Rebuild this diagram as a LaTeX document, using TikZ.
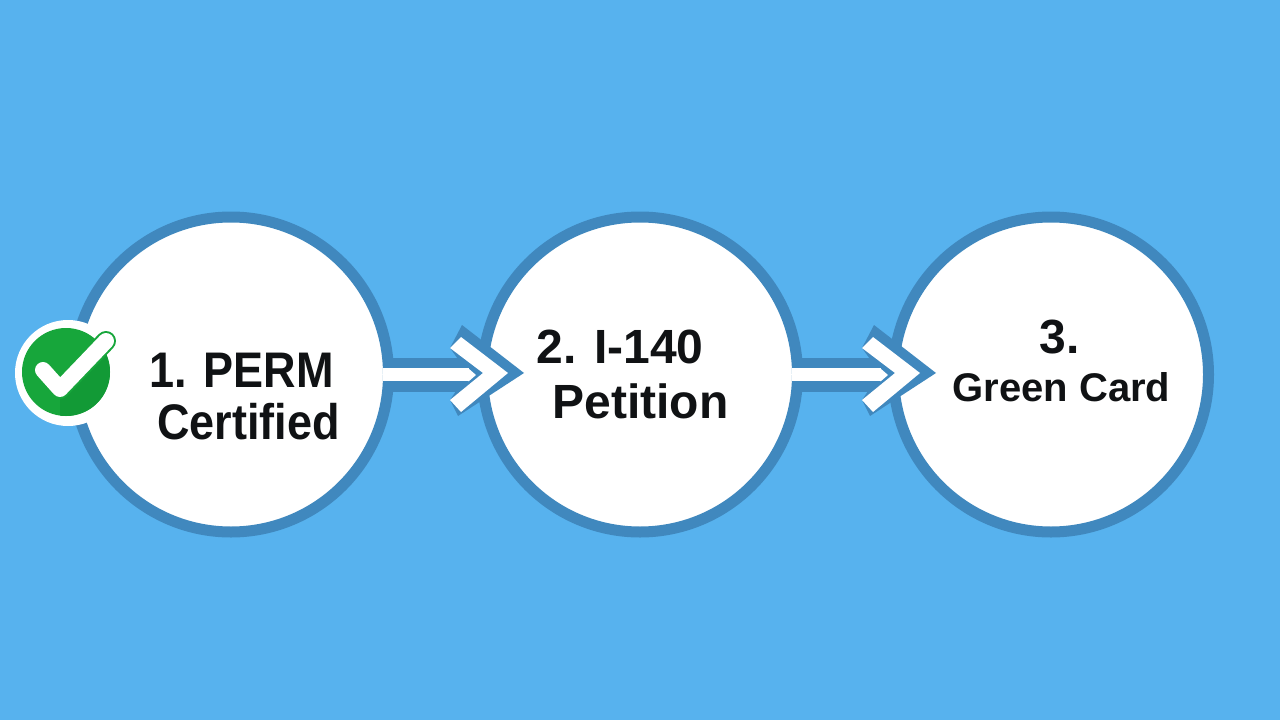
\documentclass[tikz,border=0pt]{standalone}
\usepackage{fontspec}
\setmainfont{Liberation Sans}
\definecolor{bgblue}{HTML}{57B2EE}
\definecolor{ringblue}{HTML}{4088BE}
\definecolor{badgegreen}{HTML}{17A63B}
\definecolor{badgedark}{HTML}{129A36}
\definecolor{ink}{HTML}{101214}
\tikzset{
  stepcircle/.style={circle,draw=ringblue,fill=white,line width=11pt,minimum size=315pt,inner sep=0pt,outer sep=0pt},
  shaftblue/.style={draw=ringblue,line width=34pt},
  shaftwhite/.style={draw=white,line width=13pt,shorten <=-5.5pt},
  label/.style={inner sep=0pt,text=ink,font=\bfseries\fontsize{#1}{#1}\selectfont},
  label/.default=50,
  narrow/.style={xscale=0.9,transform shape}
}
\newcommand{\chevron}[1]{%
  \begin{scope}[shift={(#1)}]
    \fill[ringblue] (-46,-48) -- (16,0) -- (-50,43) -- (-58,27) -- (-40,0) -- (-58,-25) -- cycle;
    \fill[white] (-47,-36) -- (0,0) -- (-47,39) -- (-58,27) -- (-25,0) -- (-58,-25) -- cycle;
    \fill[white] (-39.5,-4.5) -- (-32,2) -- (-39.5,8.5) -- cycle;
  \end{scope}}
\begin{document}
\begin{tikzpicture}[x=1pt,y=-1pt]
\useasboundingbox (0,0) rectangle (1280,720);
\fill[bgblue] (0,0) rectangle (1280,720);
\node[stepcircle] (c1) at (231,374.5) {};
\node[stepcircle] (c2) at (640,374.5) {};
\node[stepcircle] (c3) at (1051,374.5) {};
\coordinate (tipa) at (508,373);
\coordinate (tipb) at (920,373);
\coordinate (enda) at (483,375);
\coordinate (endb) at (895,375);
\coordinate (stopa) at (469,375);
\coordinate (stopb) at (881,375);
\draw[shaftblue] (c1.east) -- (c1.east -| enda);
\draw[shaftblue] (c2.east) -- (c2.east -| endb);
\chevron{tipa}
\chevron{tipb}
\draw[shaftwhite] (c1.east) -- (c1.east -| stopa);
\draw[shaftwhite] (c2.east) -- (c2.east -| stopb);
% check badge
\node[circle,fill=white,minimum size=106pt,inner sep=0pt] (badge) at (68,373) {};
\node[circle,fill=badgegreen,minimum size=88pt,inner sep=0pt] (dot) at (66,372) {};
\begin{scope}
  \clip (66,372) circle (44);
  \fill[badgedark] (60,393) -- (112,340) -- (112,420) -- (60,420) -- cycle;
\end{scope}
\coordinate (ca) at (43,370);
\coordinate (cb) at (60,389);
\coordinate (cc) at (106,341);
\draw[badgegreen,line width=20pt,line cap=round,line join=round] (cb) -- (cc);
\draw[white,line width=16pt,line cap=round,line join=round] (ca) -- (cb) -- (cc);
% labels
\node[label=50,narrow] (t1a) at (241.5,370) {1. PERM};
\node[label=50,narrow] (t1b) at (248.5,422) {Certified};
\node[label=48] (t2a) at (620,347) {2. I-140};
\node[label=48] (t2b) at (640.5,401) {Petition};
\node[label=48] (t3a) at (1060,337) {3.};
\node[label=40] (t3b) at (1061.5,387) {Green Card};
\end{tikzpicture}
\end{document}
